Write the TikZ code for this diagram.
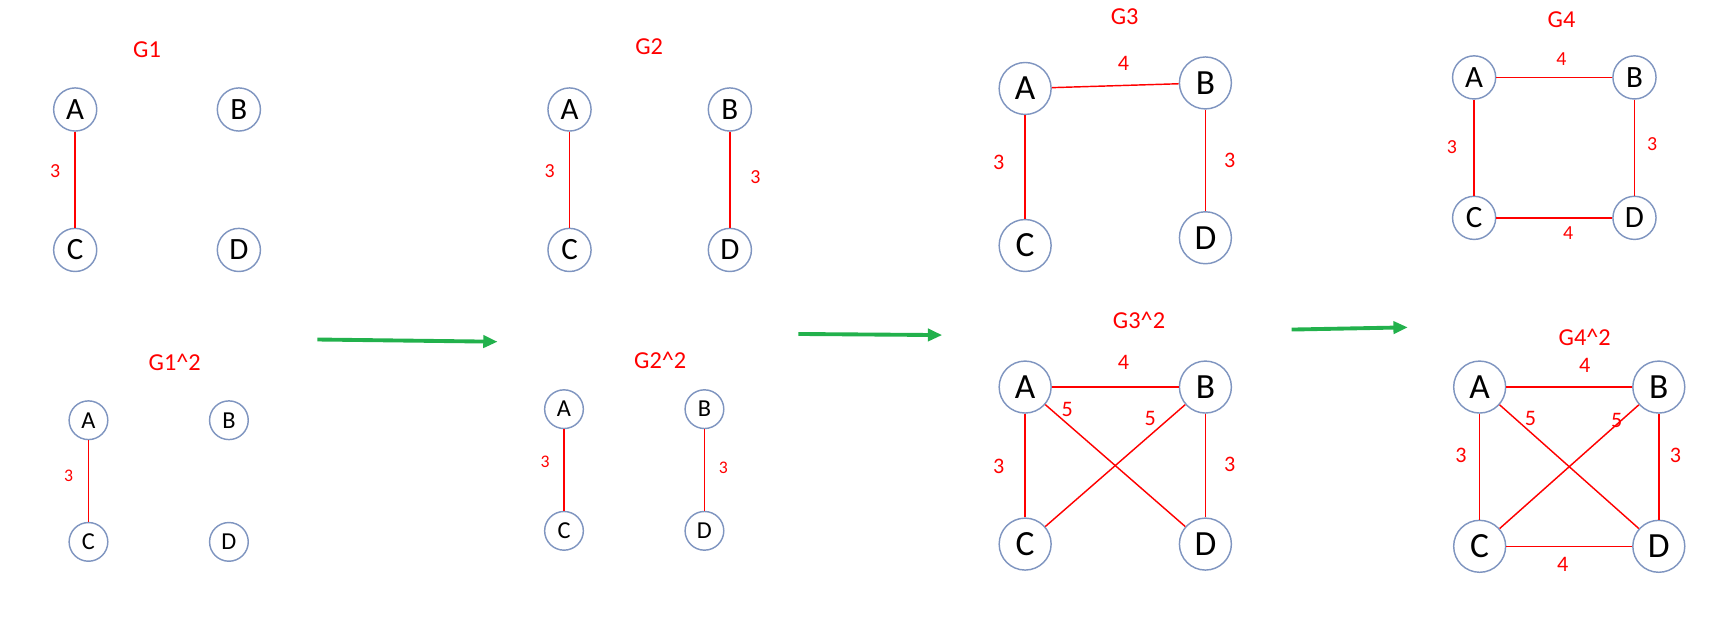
\documentclass[tikz,border=0pt]{standalone}
\usepackage{fontspec}
\setmainfont{Carlito}
\usetikzlibrary{arrows.meta}
\definecolor{nb}{HTML}{7F95C0}
\definecolor{ar}{HTML}{22B14C}
\begin{document}
\begin{tikzpicture}[x=1pt,y=-1pt,
 v/.style={circle,draw=nb,line width=1.3pt,fill=white,inner sep=0pt,minimum size=#1},
 vl/.style={v=39pt,font=\fontsize{28}{28}\selectfont},
 vs/.style={v=35pt,font=\fontsize{22}{22}\selectfont},
 vb/.style={v=47pt,font=\fontsize{32}{32}\selectfont},
 e/.style={draw=red,line width=1.3pt},
 lb/.style={text=red,font=\fontsize{#1}{#1}\selectfont},
 ttl/.style={text=red,font=\fontsize{22}{22}\selectfont},
 ga/.style={draw=ar,line width=3.5pt,-{Triangle[length=13pt,width=11pt]}}]
\useasboundingbox (0,0) rectangle (1568,576);
% G1
\node[ttl] (t1) at (133,45) {G1};
\node[vl] (a1) at (68,99) {A}; \node[vl] (b1) at (216,99) {B};
\node[vl] (c1) at (68,226) {C}; \node[vl] (d1) at (216,226) {D};
\draw[e] (a1) -- (c1); \node[lb=18] (l1) at (50,155) {3};
% G1^2
\node[ttl] (t1s) at (158,328) {G1\^{}2};
\node[vs] (a1s) at (80,380) {A}; \node[vs] (b1s) at (207,380) {B};
\node[vs] (c1s) at (80,490) {C}; \node[vs] (d1s) at (207,490) {D};
\draw[e] (a1s) -- (c1s); \node[lb=16] (l1s) at (62,430) {3};
\coordinate (p1) at (287,307); \coordinate (q1) at (450,309);
\draw[ga] (p1) -- (q1);
% G2
\node[ttl] (t2) at (587,42) {G2};
\node[vl] (a2) at (515,99) {A}; \node[vl] (b2) at (660,99) {B};
\node[vl] (c2) at (515,226) {C}; \node[vl] (d2) at (660,226) {D};
\draw[e] (a2) -- (c2); \draw[e] (b2) -- (d2);
\node[lb=18] (l2a) at (497,155) {3}; \node[lb=18] (l2b) at (683,160) {3};
% G2^2
\node[ttl] (t2s) at (597,326) {G2\^{}2};
\node[vs] (a2s) at (510,370) {A}; \node[vs] (b2s) at (637,370) {B};
\node[vs] (c2s) at (510,480) {C}; \node[vs] (d2s) at (637,480) {D};
\draw[e] (a2s) -- (c2s); \draw[e] (b2s) -- (d2s);
\node[lb=16] (l2sa) at (493,418) {3}; \node[lb=16] (l2sb) at (654,423) {3};
\coordinate (p2) at (722,302); \coordinate (q2) at (852,303);
\draw[ga] (p2) -- (q2);
% G3
\node[ttl] (t3) at (1017,15) {G3};
\node[vb] (a3) at (927,80) {A}; \node[vb] (b3) at (1090,75) {B};
\node[vb] (c3) at (927,222) {C}; \node[vb] (d3) at (1090,215) {D};
\draw[e] (a3) -- (b3); \draw[e] (a3) -- (c3); \draw[e] (b3) -- (d3);
\node[lb=20] (l3a) at (1016,57) {4}; \node[lb=20] (l3b) at (903,147) {3}; \node[lb=20] (l3c) at (1112,145) {3};
% G3^2
\node[ttl] (t3s) at (1030,290) {G3\^{}2};
\node[vb] (a3s) at (927,350) {A}; \node[vb] (b3s) at (1090,350) {B};
\node[vb] (c3s) at (927,492) {C}; \node[vb] (d3s) at (1090,492) {D};
\draw[e] (a3s) -- (b3s); \draw[e] (a3s) -- (c3s); \draw[e] (b3s) -- (d3s);
\draw[e] (a3s) -- (d3s); \draw[e] (b3s) -- (c3s);
\node[lb=20] (l3sa) at (1016,328) {4}; \node[lb=20] (l3sb) at (965,370) {5}; \node[lb=20] (l3sc) at (1040,378) {5};
\node[lb=20] (l3sd) at (903,422) {3}; \node[lb=20] (l3se) at (1112,420) {3};
\coordinate (p3) at (1168,298); \coordinate (q3) at (1273,296);
\draw[ga] (p3) -- (q3);
% G4
\node[ttl] (t4) at (1412,18) {G4};
\node[vl] (a4) at (1333,70) {A}; \node[vl] (b4) at (1478,70) {B};
\node[vl] (c4) at (1333,197) {C}; \node[vl] (d4) at (1478,197) {D};
\draw[e] (a4) -- (b4); \draw[e] (a4) -- (c4); \draw[e] (b4) -- (d4); \draw[e] (c4) -- (d4);
\node[lb=18] (l4a) at (1412,53) {4}; \node[lb=18] (l4b) at (1313,133) {3};
\node[lb=18] (l4c) at (1494,130) {3}; \node[lb=18] (l4d) at (1418,211) {4};
% G4^2
\node[ttl] (t4s) at (1433,305) {G4\^{}2};
\node[vb] (a4s) at (1338,350) {A}; \node[vb] (b4s) at (1500,350) {B};
\node[vb] (c4s) at (1338,494) {C}; \node[vb] (d4s) at (1500,494) {D};
\draw[e] (a4s) -- (b4s); \draw[e] (a4s) -- (c4s); \draw[e] (b4s) -- (d4s); \draw[e] (c4s) -- (d4s);
\draw[e] (a4s) -- (d4s); \draw[e] (b4s) -- (c4s);
\node[lb=20] (l4sa) at (1433,330) {4}; \node[lb=20] (l4sb) at (1384,378) {5}; \node[lb=20] (l4sc) at (1462,380) {5};
\node[lb=20] (l4sd) at (1321,412) {3}; \node[lb=20] (l4se) at (1515,412) {3}; \node[lb=20] (l4sf) at (1413,510) {4};
\end{tikzpicture}
\end{document}
